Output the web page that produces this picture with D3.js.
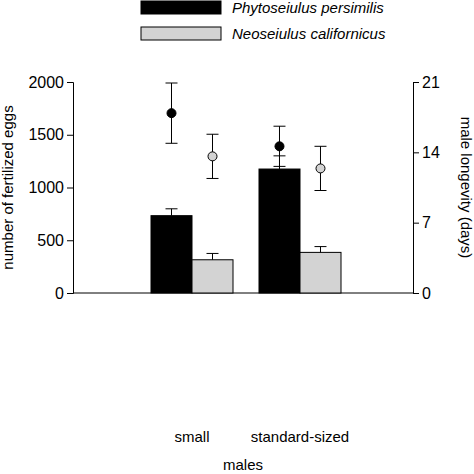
<!DOCTYPE html><html><head><script src="https://cdn.jsdelivr.net/npm/d3@7"></script>
<style>body{margin:0;background:#fff}text{font-family:Arial,"Liberation Sans",sans-serif}</style></head><body>
<svg id="c" width="474" height="474"></svg>
<script>
const categories=["small","standard-sized"];
const series=["Phytoseiulus persimilis","Neoseiulus californicus"];
const colors=["#000000","#d3d3d3"];
const eggs=[[733,1175],[315,385]];
const eggsErr=[[65,125],[60,55]];
const longevity=[[17.9,14.6],[13.6,12.4]];
const longevityErr=[[3.0,2.0],[2.2,2.2]];
const leftTicks=[0,500,1000,1500,2000];
const rightTicks=[0,7,14,21];
const svg=d3.select("#c");
const L=73,R=413,T=82,B=293;
const y=d3.scaleLinear().domain([0,2000]).range([B,T]);
const y2=d3.scaleLinear().domain([0,21]).range([B,T]);
const x0=d3.scaleBand().domain(categories).range([151,341]).paddingInner(0.2407).paddingOuter(0);
const x1=d3.scaleBand().domain([0,1]).range([0,x0.bandwidth()]);
svg.append("g").attr("transform",`translate(${L},0)`).call(d3.axisLeft(y).tickValues(leftTicks).tickFormat(d3.format("d")).tickSizeOuter(0).tickSize(6))
 .call(g=>g.selectAll("text").attr("font-size",16).attr("fill","#000"));
svg.append("g").attr("transform",`translate(${R},0)`).call(d3.axisRight(y2).tickValues(rightTicks).tickSizeOuter(0).tickSize(6))
 .call(g=>g.selectAll("text").attr("font-size",16).attr("fill","#000"));
svg.append("line").attr("x1",L).attr("x2",R).attr("y1",B).attr("y2",B).attr("stroke","#000");
series.forEach((s,si)=>{
 categories.forEach((c,ci)=>{
  const bx=x0(c)+x1(si),bw=x1.bandwidth(),cx=bx+bw/2;
  svg.append("rect").attr("x",bx).attr("width",bw).attr("y",y(eggs[si][ci])).attr("height",B-y(eggs[si][ci])).attr("fill",colors[si]).attr("stroke","#000");
  const top=y(eggs[si][ci]+eggsErr[si][ci]);
  svg.append("line").attr("x1",cx).attr("x2",cx).attr("y1",y(eggs[si][ci])).attr("y2",top).attr("stroke","#000");
  svg.append("line").attr("x1",cx-6).attr("x2",cx+6).attr("y1",top).attr("y2",top).attr("stroke","#000");
  const v=longevity[si][ci],e=longevityErr[si][ci];
  const a=y2(v+e),b=y2(v-e);
  svg.append("line").attr("x1",cx).attr("x2",cx).attr("y1",a).attr("y2",b).attr("stroke","#000");
  [a,b].forEach(t=>svg.append("line").attr("x1",cx-6).attr("x2",cx+6).attr("y1",t).attr("y2",t).attr("stroke","#000"));
  svg.append("circle").attr("cx",cx).attr("cy",y2(v)).attr("r",4.5).attr("fill",colors[si]).attr("stroke","#000");
 });
});
categories.forEach(c=>svg.append("text").attr("x",x0(c)+x0.bandwidth()/2).attr("y",442).attr("text-anchor","middle").attr("font-size",15).text(c));
svg.append("text").attr("x",243).attr("y",470).attr("text-anchor","middle").attr("font-size",15).text("males");
svg.append("text").attr("transform",`translate(13,${(T+B)/2}) rotate(-90)`).attr("text-anchor","middle").attr("font-size",15).text("number of fertilized eggs");
svg.append("text").attr("transform",`translate(461,${(T+B)/2}) rotate(90)`).attr("text-anchor","middle").attr("font-size",15).text("male longevity (days)");
series.forEach((s,i)=>{
 svg.append("rect").attr("x",141).attr("y",1+i*26).attr("width",80).attr("height",13).attr("fill",colors[i]).attr("stroke","#000");
 svg.append("text").attr("x",232).attr("y",13+i*26).attr("font-size",15).attr("font-style","italic").text(s);
});
</script></body></html>
